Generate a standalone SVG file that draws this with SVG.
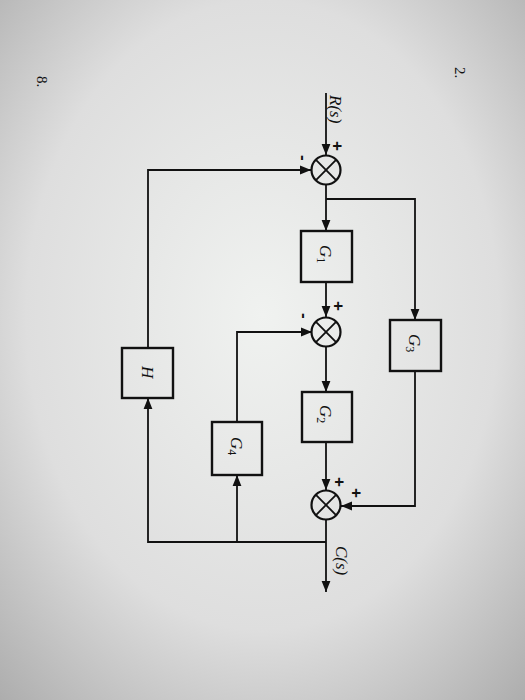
<svg xmlns="http://www.w3.org/2000/svg" width="525" height="700" viewBox="0 0 525 700">
<defs>
<radialGradient id="bg" cx="0.5" cy="0.45" r="0.75">
<stop offset="0" stop-color="#f0f2f0"/>
<stop offset="0.6" stop-color="#dedede"/>
<stop offset="1" stop-color="#acacac"/>
</radialGradient>
<marker id="arr" viewBox="0 0 10 10" refX="10" refY="5" markerWidth="11" markerHeight="11" markerUnits="userSpaceOnUse" orient="auto">
<path d="M0,1 L10,5 L0,9 Z" fill="#111"/>
</marker>
<style>
.ln{fill:none;stroke:#111;stroke-width:1.8}
.box{fill:none;stroke:#111;stroke-width:2.4}
.sum{fill:none;stroke:#111;stroke-width:2.2}
.lbl{font-family:"Liberation Serif",serif;font-style:italic;font-size:17px;fill:#111}
.sub{font-style:normal;font-size:12px}
.sgn{font-family:"Liberation Sans",sans-serif;font-size:17px;font-weight:bold;fill:#111}
.num{font-family:"Liberation Serif",serif;font-size:15px;fill:#111}
</style>
</defs>
<rect width="525" height="700" fill="url(#bg)"/>
<text class="num" transform="translate(455,67) rotate(90)">2.</text>
<text class="num" transform="translate(37,76) rotate(90)">8.</text>

<g id="connectors">
<path class="ln" d="M326,93 V155" marker-end="url(#arr)"/>
<path class="ln" d="M148,348 V170 H311" marker-end="url(#arr)"/>
<path class="ln" d="M326,185 V231" marker-end="url(#arr)"/>
<path class="ln" d="M326,199 H415 V320" marker-end="url(#arr)"/>
<path class="ln" d="M326,282 V317" marker-end="url(#arr)"/>
<path class="ln" d="M237,422 V332 H312" marker-end="url(#arr)"/>
<path class="ln" d="M326,347 V392" marker-end="url(#arr)"/>
<path class="ln" d="M326,442 V490" marker-end="url(#arr)"/>
<path class="ln" d="M415,371 V506 H341" marker-end="url(#arr)"/>
<path class="ln" d="M326,520 V592" marker-end="url(#arr)"/>
<path class="ln" d="M326,542 H148 V398" marker-end="url(#arr)"/>
<path class="ln" d="M237,542 V475" marker-end="url(#arr)"/>
</g>

<g id="sum1">
<circle class="sum" cx="326" cy="170" r="14.5"/>
<path class="ln" d="M315.7,159.7 L336.3,180.3 M336.3,159.7 L315.7,180.3"/>
<text class="sgn" transform="translate(332,141) rotate(90)">+</text>
<text class="sgn" transform="translate(298,155) rotate(90)">-</text>
</g>
<g id="sum2">
<circle class="sum" cx="326" cy="332" r="14.5"/>
<path class="ln" d="M315.7,321.7 L336.3,342.3 M336.3,321.7 L315.7,342.3"/>
<text class="sgn" transform="translate(333,301) rotate(90)">+</text>
<text class="sgn" transform="translate(299,313) rotate(90)">-</text>
</g>
<g id="sum3">
<circle class="sum" cx="326" cy="505" r="14.5"/>
<path class="ln" d="M315.7,494.7 L336.3,515.3 M336.3,494.7 L315.7,515.3"/>
<text class="sgn" transform="translate(334,477) rotate(90)">+</text>
<text class="sgn" transform="translate(351,488) rotate(90)">+</text>
</g>

<g id="R">
<text class="lbl" transform="translate(330,95) rotate(90)">R(s)</text>
</g>
<g id="C">
<text class="lbl" transform="translate(336,546) rotate(90)">C(s)</text>
</g>

<g id="G1">
<rect class="box" x="301" y="231" width="51" height="51"/>
<text class="lbl" transform="translate(320,245) rotate(90)">G<tspan class="sub" dy="3">1</tspan></text>
</g>
<g id="G2">
<rect class="box" x="302" y="392" width="50" height="50"/>
<text class="lbl" transform="translate(320,405) rotate(90)">G<tspan class="sub" dy="3">2</tspan></text>
</g>
<g id="G3">
<rect class="box" x="390" y="320" width="51" height="51"/>
<text class="lbl" transform="translate(409,334) rotate(90)">G<tspan class="sub" dy="3">3</tspan></text>
</g>
<g id="G4">
<rect class="box" x="212" y="422" width="50" height="53"/>
<text class="lbl" transform="translate(231,437) rotate(90)">G<tspan class="sub" dy="3">4</tspan></text>
</g>
<g id="H">
<rect class="box" x="122" y="348" width="51" height="50"/>
<text class="lbl" transform="translate(142,366) rotate(90)">H</text>
</g>
</svg>
